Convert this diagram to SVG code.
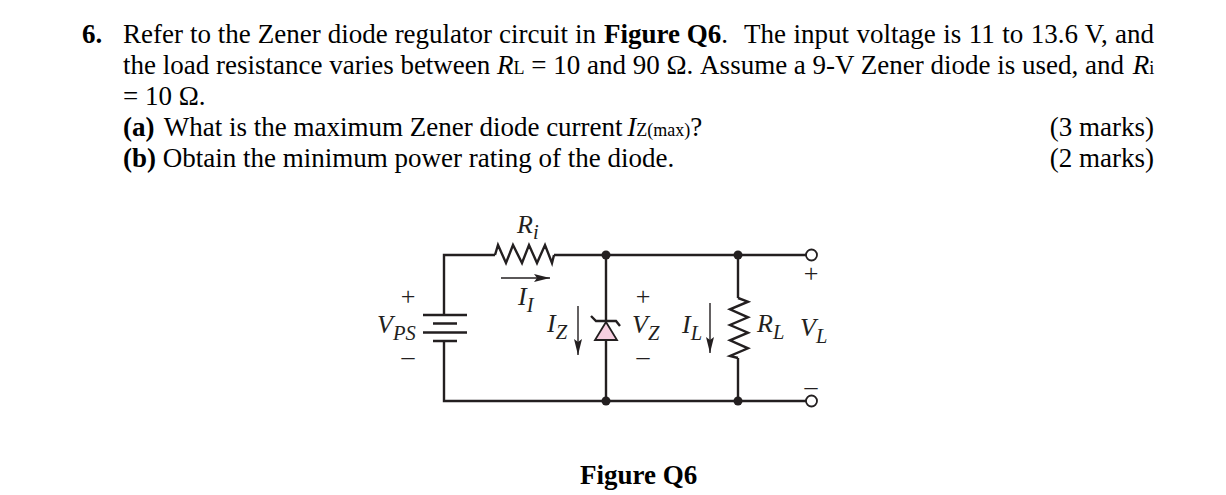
<svg xmlns="http://www.w3.org/2000/svg" width="1226" height="495" viewBox="0 0 1226 495">
<style>
text{font-family:"Liberation Serif","Times New Roman",serif;fill:#000}
.q{font-size:27px}
.b{font-weight:bold}
.i{font-style:italic}
.s{font-size:18px}
.l{font-size:26px;fill:#231f20}
.ls{font-size:20.500px;fill:#231f20}
.p{font-size:26px;fill:#231f20;text-anchor:middle}
.w{fill:none;stroke:#231f20;stroke-width:2.4}
.t{fill:none;stroke:#231f20;stroke-width:1.4}
.d{fill:#231f20}
.o{fill:#fff;stroke:#231f20;stroke-width:1.8}
</style>
<defs>
<marker id="ah" viewBox="0 0 16 8" refX="16" refY="4" markerWidth="16" markerHeight="8" markerUnits="userSpaceOnUse" orient="auto"><path d="M0 0L16 4L0 8L3 4Z" fill="#231f20"/></marker>
</defs>
<g id="question">
<text class="q b" x="82" y="43">6.</text>
<text class="q" x="123" y="43" word-spacing="0.2">Refer to the Zener diode regulator circuit in</text>
<text class="q" x="604" y="43"><tspan class="b">Figure Q6</tspan>.</text>
<text class="q" x="744" y="43" word-spacing="0.7">The input voltage is 11 to 13.6 V, and</text>
<text class="q" x="123" y="74">the load resistance varies between <tspan class="i">R</tspan><tspan class="s">L</tspan> = 10 and 90 Ω. Assume a 9-V Zener diode is used, and <tspan class="i" dx="2">R</tspan><tspan class="s">i</tspan></text>
<text class="q" x="123" y="105">= 10 Ω.</text>
<text class="q" x="123" y="136"><tspan class="b">(a)</tspan><tspan dx="3"> What is the maximum Zener diode current </tspan><tspan class="i" dx="-2">I</tspan><tspan class="s">Z(max)</tspan>?</text>
<text class="q" x="123" y="167"><tspan class="b">(b)</tspan> Obtain the minimum power rating of the diode.</text>
<text class="q" x="1154" y="136" text-anchor="end">(3 marks)</text>
<text class="q" x="1154" y="167" text-anchor="end">(2 marks)</text>
</g>
<g id="connectors">
<path class="w" d="M495 255H444V315M444 341V401H806"/>
<path class="w" d="M554 255H806"/>
<path class="w" d="M606 255V322M606 340V401"/>
<path class="w" d="M738 255V298M738 358V401"/>
<path class="t" d="M501 278H550" marker-end="url(#ah)"/>
<path class="t" d="M578 306V355" marker-end="url(#ah)"/>
<path class="t" d="M710 303V353" marker-end="url(#ah)"/>
</g>
<g id="source">
<path class="w" d="M423 315H467M433 323.500H457M423 332.500H467M433 341H457"/>
<text class="p" x="408" y="305">+</text>
<text class="p" x="408" y="365">–</text>
<text class="l i" x="377" y="333">V<tspan class="ls" dy="7">PS</tspan></text>
</g>
<g id="resistor-ri">
<path class="w" d="M495 255L498 245L506 263L513 245L522 263L529 245L537 263L545 245L552 263L554 255"/>
<text class="l i" x="517" y="233">R<tspan class="ls" dy="6">i</tspan></text>
<text class="l i" x="518" y="305">I<tspan class="ls" dy="7">I</tspan></text>
</g>
<g id="zener">
<path d="M606 322L617 340H595Z" fill="#f7cfe0" stroke="#231f20" stroke-width="1.800"/>
<path class="w" stroke-width="1.800" d="M591 316L596 321H616L620 326"/>
<text class="l i" x="547" y="332">I<tspan class="ls" dy="7">Z</tspan></text>
<text class="l i" x="632" y="333">V<tspan class="ls" dy="7">Z</tspan></text>
<text class="p" x="643" y="305">+</text>
<text class="p" x="643" y="365">–</text>
</g>
<g id="resistor-rl">
<path class="w" d="M738 298L748 301.700L730 309.300L748 317.300L730 325L748 332.700L730 340.300L748 348.300L730 356L738 358"/>
<text class="l i" x="682" y="333">I<tspan class="ls" dy="7">L</tspan></text>
<text class="l i" x="757" y="332">R<tspan class="ls" dy="7">L</tspan></text>
</g>
<g id="output">
<circle class="o" cx="811.500" cy="255" r="5.500"/>
<circle class="o" cx="811.500" cy="401" r="5.500"/>
<text class="p" x="811" y="282">+</text>
<text class="p" x="811" y="395">–</text>
<text class="l i" x="800" y="336">V<tspan class="ls" dy="7">L</tspan></text>
</g>
<g id="junctions">
<circle class="d" cx="606" cy="255" r="4.500"/>
<circle class="d" cx="738" cy="255" r="4.500"/>
<circle class="d" cx="606" cy="401" r="4.500"/>
<circle class="d" cx="738" cy="401" r="4.500"/>
</g>
<text class="q b" x="580" y="484">Figure Q6</text>
</svg>
